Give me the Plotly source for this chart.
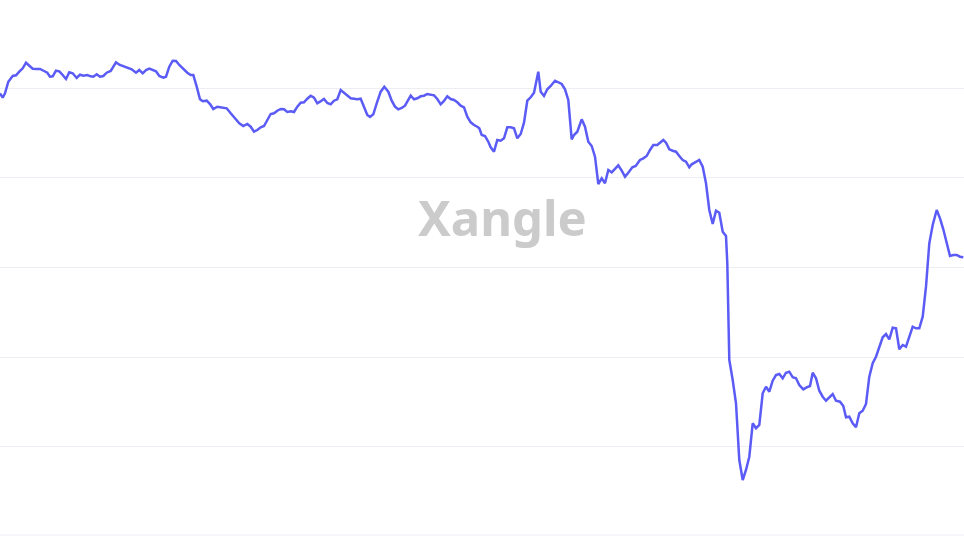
import plotly.graph_objects as go

# time index and price level (relative units)
t_seg1 = [0, 2.7, 5, 8.3, 12.7, 16, 19.3, 22.7, 26, 29.3, 32.7, 36.7, 40, 44, 47.3, 50, 52.7, 56, 59.3, 62.7,
          66, 69.3, 72.7, 76.7, 80, 83.3, 87.3, 90.7, 93.3, 96.7, 100, 103.3, 106.7, 110.7, 116, 119.3, 123.3,
          127.3, 131.7, 136, 139.3, 142.7, 146, 149.3, 152.7, 156, 159.3]
v_seg1 = [442.2, 437.8, 442.2, 453.8, 459.5, 460.2, 463.8, 467.2, 472.8, 469.8, 466.8, 466.5, 466.5, 464.5, 462.8,
          458.8, 459.2, 464.8, 464.2, 460.5, 456.5, 463.2, 462.2, 457.5, 460.8, 459.8, 460.5, 459.2, 458.8, 461.2,
          458.8, 459.5, 462.8, 464.5, 473.2, 470.8, 469.5, 467.8, 466.2, 462.8, 465.5, 462.2, 465.5, 466.8, 465.5,
          464.2, 459.5]

t_seg2 = [163.3, 166, 169.3, 172.7, 176, 179.3, 183.3, 187.3, 190.7, 193.3, 196.7, 200, 202.7, 206.7, 210, 213.3,
          217.3, 221.7, 226.7, 230.7, 235, 239.3, 243.3, 247.3, 250.7, 254, 257.3, 260.7, 264, 267.3, 270.7, 274,
          277.3, 280.7, 284, 287.3, 290.7, 294, 297.3, 300.7, 304, 307.3, 310.7, 314, 317.3, 320]
v_seg2 = [457.8, 458.8, 468.8, 474.8, 474.5, 470.5, 466.2, 462.8, 460.5, 460.5, 448.8, 436.2, 434.2, 434.8, 431.5,
          426.5, 428.8, 427.8, 427.2, 422.2, 417.2, 412.2, 409.5, 411.5, 408.8, 403.8, 405.5, 408.2, 409.5, 415.5,
          421.5, 422.2, 424.8, 426.5, 426.2, 423.5, 424.2, 423.5, 428.8, 432.8, 433.2, 436.8, 439.8, 437.8, 432.2,
          433.8]

t_seg3 = [324, 327.3, 330.7, 334, 337.3, 340.7, 344, 347.3, 350.7, 354, 357.3, 360.7, 364, 367.3, 370, 373.3,
          376.7, 380.7, 384.3, 388.3, 391.7, 395, 398.3, 401.7, 405, 408.3, 410.7, 414, 417.3, 420.7, 424, 427.3,
          430.7, 434, 437.3, 440.7, 444, 447.3, 450.7, 454, 457.3, 460.7, 464, 467.3, 470.7, 474, 477.3]
v_seg3 = [436.5, 432.5, 431.2, 434.8, 436.2, 445.5, 442.8, 439.8, 437.2, 436.8, 436.2, 436.8, 428.8, 420.5, 418.5,
          421.2, 432.2, 443.8, 448.8, 443.8, 434.8, 428.8, 426.2, 427.5, 429.8, 435.5, 439.8, 436.2, 437.2, 439.2,
          439.8, 441.5, 440.5, 440.2, 436.5, 431.2, 434.5, 439.2, 436.5, 435.5, 433.2, 429.8, 428.2, 418.8, 413.2,
          410.5, 408.8]

t_seg4 = [479.3, 481.7, 485, 488.3, 490.7, 494, 497.3, 500.7, 504, 507.3, 510.7, 514, 517.3, 520.7, 524, 527.3,
          530.7, 534, 535.7, 538.3, 540.7, 544, 547.3, 550.7, 555, 558.3, 561.7, 565, 568.3, 571.7, 574, 577.3,
          581.7, 585, 588.3, 591.7, 595, 598.3, 601.7, 605, 608.3, 611.7, 615, 618.3, 621.7, 625, 628.3, 632.3,
          635.7]
v_seg4 = [407.2, 400.5, 399.5, 393.8, 388.2, 383.8, 395.5, 394.8, 397.2, 408.2, 408.2, 407.2, 397.2, 401.5, 412.8,
          434.8, 438.2, 442.8, 452.2, 463.8, 443.8, 439.5, 446.2, 449.5, 454.8, 452.8, 451.5, 446.2, 435.5, 396.2,
          400.5, 403.8, 416.2, 408.8, 393.8, 389.5, 378.8, 351.5, 357.2, 352.2, 365.5, 363.2, 366.2, 370.2, 364.8,
          358.8, 362.8, 368.2, 369.5]

t_seg5 = [640, 643.3, 646.7, 650, 653.3, 657.3, 660.7, 663.3, 666, 669.3, 672.7, 676, 679.3, 682.7, 686, 689.3,
          691.7, 695, 699.3, 702.7, 706, 709.3, 712.7, 716, 719.3, 722.7, 726, 727.3, 729.3, 732.7, 736, 739.3,
          742.7, 746, 749.3, 752.7, 756, 759.3, 762.7, 766, 769.3, 772.7, 776, 779.3]
v_seg5 = [375.5, 377.2, 379.5, 385.5, 390.5, 390.5, 393.8, 395.5, 392.8, 386.2, 384.8, 383.8, 379.5, 375.5, 373.8,
          368.2, 371.2, 373.2, 375.5, 368.8, 352.2, 325.5, 311.5, 324.8, 322.8, 303.8, 299.5, 272.2, 175.5, 155.5,
          132.2, 75.5, 55.5, 65.5, 78.8, 112.2, 107.2, 110.5, 142.2, 148.8, 143.8, 154.8, 160.5, 161.5]

t_seg6 = [782.7, 786, 789.3, 792.7, 796, 799.3, 803.3, 806.7, 810, 812.7, 816, 819.3, 822.7, 826, 829.3, 832.7,
          836, 840, 843.3, 846, 849.3, 852.7, 856, 859.3, 862.7, 866, 869.3, 872.7, 876, 879.3, 882.7, 886, 889.3,
          892.7, 896, 899.3, 902.7, 906, 909.3, 912.7, 916, 919.3, 922.7, 926, 929.3, 932.7, 936.7, 940, 943.3,
          946.7, 950, 953.3, 956.7, 960, 963.3]
v_seg6 = [157.2, 162.8, 163.8, 158.2, 157.2, 150.5, 146.2, 148.2, 149.5, 162.8, 157.2, 144.8, 138.8, 134.8, 138.2,
          141.5, 134.8, 133.8, 129.5, 118.2, 118.8, 112.2, 108.2, 122.2, 124.8, 131.5, 158.8, 172.2, 178.8, 188.8,
          198.2, 201.5, 196.2, 207.8, 207.2, 186.2, 190.5, 188.8, 198.8, 208.8, 207.2, 207.2, 218.8, 248.8, 292.2,
          310.5, 325.5, 317.2, 306.2, 292.8, 279.5, 280.5, 280.5, 278.8, 278.2]

t = t_seg1 + t_seg2 + t_seg3 + t_seg4 + t_seg5 + t_seg6
price = v_seg1 + v_seg2 + v_seg3 + v_seg4 + v_seg5 + v_seg6

watermark = "Xangle"

fig = go.Figure()
fig.add_trace(go.Scatter(
    x=t, y=price, mode="lines",
    line=dict(color="#5b5bf6", width=2.5),
    hoverinfo="skip", showlegend=False,
))

fig.add_annotation(
    x=0.521, y=0.595, xref="paper", yref="paper",
    text="<b>" + watermark + "</b>", showarrow=False,
    font=dict(family="Noto Sans, Lato, sans-serif", size=49, color="#cbcbcb"),
)

# baseline at the bottom of the plot
fig.add_shape(type="line", xref="paper", yref="y", x0=0, x1=1, y0=0.5, y1=0.5,
              line=dict(color="#eceef4", width=1), layer="below")

fig.update_layout(
    width=964, height=536, autosize=False,
    margin=dict(l=0, r=0, t=0, b=0),
    paper_bgcolor="white", plot_bgcolor="white",
    showlegend=False,
)
fig.update_xaxes(range=[0, 964], visible=False, showgrid=False, zeroline=False)
fig.update_yaxes(range=[-0.5, 535.5], showticklabels=False, showgrid=True,
                 gridcolor="#eceef4", gridwidth=1, zeroline=False, showline=False,
                 tick0=-0.8, dtick=89.6, ticks="")

fig.write_html("out.html", config={"displayModeBar": False},
               post_script="document.body.style.margin='0';document.body.style.overflow='hidden';")
